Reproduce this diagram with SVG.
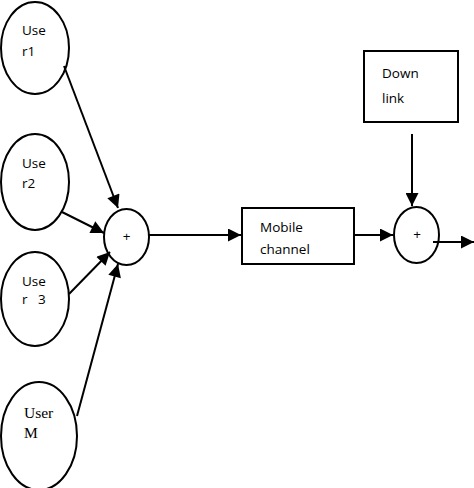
<svg xmlns="http://www.w3.org/2000/svg" width="474" height="488" viewBox="0 0 474 488">
<style>
.shape{fill:#fff;stroke:#000;stroke-width:2}
.lbl{font-family:"Open Sans","Liberation Sans",sans-serif;font-size:13.5px;fill:#000}
.ser{font-family:"Liberation Serif",serif;font-size:15.5px;fill:#000}
.conn{stroke:#000;stroke-width:2;fill:none;marker-end:url(#ah)}
</style>
<defs>
<marker id="ah" viewBox="0 0 10 10" refX="10" refY="5" markerWidth="8" markerHeight="6.5" markerUnits="strokeWidth" orient="auto">
<path d="M0,0 L10,5 L0,10 Z" fill="#000"/>
</marker>
</defs>
<rect width="474" height="488" fill="#fff"/>
<g id="user1"><ellipse class="shape" cx="35" cy="48" rx="34" ry="46"/><text class="lbl" x="22" y="35">Use</text><text class="lbl" x="22" y="56">r1</text></g>
<g id="user2"><ellipse class="shape" cx="35" cy="182" rx="34" ry="48"/><text class="lbl" x="22" y="168">Use</text><text class="lbl" x="22" y="188">r2</text></g>
<g id="user3"><ellipse class="shape" cx="35" cy="299" rx="34" ry="47"/><text class="lbl" x="22" y="286">Use</text><text class="lbl" x="22" y="304" xml:space="preserve">r   3</text></g>
<g id="userM"><ellipse class="shape" cx="39" cy="436" rx="38" ry="54"/><text class="ser" x="24" y="418">User</text><text class="ser" x="24" y="438">M</text></g>
<g id="sum1"><ellipse class="shape" cx="126.5" cy="237" rx="22.5" ry="28"/><text class="lbl" x="126.5" y="241" text-anchor="middle">+</text></g>
<g id="mobile"><rect class="shape" x="242" y="208" width="112" height="56"/><text class="lbl" x="260" y="232">Mobile</text><text class="lbl" x="260" y="254">channel</text></g>
<g id="sum2"><ellipse class="shape" cx="416.5" cy="235" rx="22.5" ry="28"/><text class="lbl" x="417" y="239" text-anchor="middle">+</text></g>
<g id="downlink"><rect class="shape" x="364" y="51" width="94" height="71"/><text class="lbl" x="382" y="78">Down</text><text class="lbl" x="382" y="103">link</text></g>
<g id="connectors">
<line class="conn" x1="64" y1="66" x2="118" y2="208"/>
<line class="conn" x1="62" y1="212" x2="104" y2="233"/>
<line class="conn" x1="69" y1="294" x2="110" y2="252"/>
<line class="conn" x1="77" y1="416" x2="118" y2="264"/>
<line class="conn" x1="149" y1="235" x2="241" y2="235"/>
<line class="conn" x1="354" y1="235" x2="393" y2="235"/>
<line class="conn" x1="412" y1="134" x2="412" y2="206"/>
<line class="conn" x1="433" y1="242" x2="474" y2="242"/>
</g>
</svg>
